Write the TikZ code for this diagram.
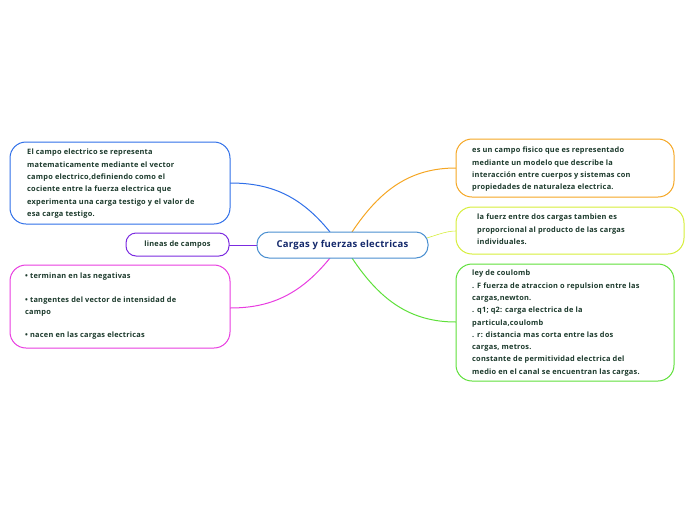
\documentclass[tikz,border=0pt]{standalone}
\usepackage{fontspec}
\setmainfont{Open Sans}[LetterSpace=3]
\begin{document}
\begin{tikzpicture}[x=1pt,y=-1pt,
  box/.style={draw,line width=1pt,rounded corners=16pt,inner sep=0pt},
  txt/.style={align=left,anchor=north west,font=\fontsize{7.4}{12.3}\selectfont\bfseries,text=txtc,inner sep=0pt},
  conn/.style={line width=1pt}]
\definecolor{txtc}{HTML}{1C3A2C}
\definecolor{colB}{HTML}{2F6FE8}
\definecolor{colP}{HTML}{7B2BE0}
\definecolor{colM}{HTML}{E83CE0}
\definecolor{colC}{HTML}{4A8FD0}
\definecolor{colO}{HTML}{F5A623}
\definecolor{colY}{HTML}{D6EE3A}
\definecolor{colG}{HTML}{5EE03A}
\useasboundingbox (0,0) rectangle (696,520);
% connectors
\draw[conn,colB] (330,232) .. controls (300,195) and (270,183) .. (230,183);
\draw[conn,colM] (330,258) .. controls (300,295) and (270,308) .. (230,308);
\draw[conn,colP] (229,245) -- (257,245);
\draw[conn,colO] (352,232) .. controls (380,190) and (410,168) .. (456,168);
\draw[conn,colY,line width=0.6pt] (420,240) .. controls (435,236) and (445,231) .. (456,231);
\draw[conn,colG] (352,258) .. controls (380,300) and (410,322) .. (456,322);
% boxes
\draw[box,colB,fill=white] (10,142) rectangle (230,224);
\node[txt] (t1) at (27,149) {El campo electrico se representa\\matematicamente mediante el vector\\campo electrico,definiendo como el\\cociente entre la fuerza electrica que\\experimenta una carga testigo y el valor de\\esa carga testigo.};
\draw[box,colP,rounded corners=10pt,fill=white] (126,233) rectangle (229,256);
\node[txt,anchor=center] (t2) at (177.5,245) {lineas de campos};
\draw[box,colM,fill=white] (10,265) rectangle (230,348);
\node[txt] (t3) at (25,273) {• terminan en las negativas\\[11pt]• tangentes del vector de intensidad de\\campo\\[11pt]• nacen en las cargas electricas};
\draw[box,colC,rounded corners=12pt,fill=white] (257,232) rectangle (428,258);
\node[anchor=center,font=\fontsize{9.5}{11}\selectfont\bfseries,text=txtc!70!blue] (c) at (342.5,245) {Cargas y fuerzas electricas};
\draw[box,colO,fill=white] (456,139) rectangle (674,197);
\node[txt] (t4) at (472,147) {es un campo fisico que es representado\\mediante un modelo que describe la\\interacción entre cuerpos y sistemas con\\propiedades de naturaleza electrica.};
\draw[box,colY,fill=white] (456,207) rectangle (684,254);
\node[txt] (t5) at (477,214) {la fuerz entre  dos cargas tambien es\\proporcional al producto de las cargas\\individuales.};
\draw[box,colG,fill=white] (456,264) rectangle (674,381);
\node[txt] (t6) at (472,270) {ley de coulomb\\. F fuerza de atraccion o repulsion entre las\\cargas,newton.\\. q1; q2: carga electrica de la\\particula,coulomb\\. r: distancia mas corta entre las dos\\cargas, metros.\\constante de permitividad electrica del\\medio en el canal se encuentran las cargas.};
\end{tikzpicture}
\end{document}
